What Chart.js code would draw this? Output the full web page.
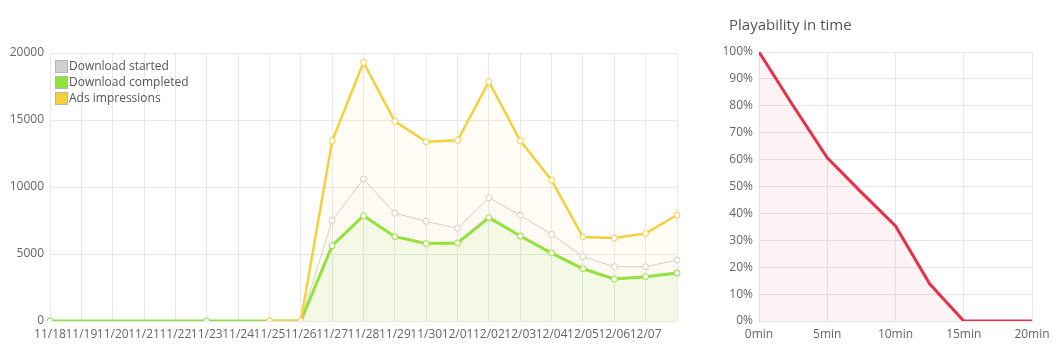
<!DOCTYPE html>
<html>
<head>
<meta charset="utf-8">
<script src="https://cdn.jsdelivr.net/npm/chart.js@4"></script>
<style>
    html, body { margin: 0; padding: 0; background: #fff; }
    body { width: 1061px; height: 347px; position: relative; overflow: hidden; font-family: "Open Sans", sans-serif; }
    #left-box { position: absolute; left: 0; top: 0; width: 690px; height: 347px; }
    #right-box { position: absolute; left: 700px; top: 0; width: 361px; height: 347px; }
    #legend { position: absolute; left: 55px; top: 58px; font-size: 12px; color: #555; line-height: 16px; }
    #legend div { display: flex; align-items: center; height: 16px; }
    #legend span.box { display: inline-block; width: 11px; height: 11px; border: 1px solid #b5b5b5; margin-right: 1px; }
    #right-title { position: absolute; left: 729px; top: 14px; font-size: 15px; line-height: 20px; color: #555; }
</style>
</head>
<body>
<div id="left-box"><canvas id="downloads-chart"></canvas></div>
<div id="legend"></div>
<div id="right-box"><canvas id="playability-chart"></canvas></div>
<div id="right-title">Playability in time</div>
<script>
// days shown on the downloads chart
const days = ['11/18', '11/19', '11/20', '11/21', '11/22', '11/23', '11/24', '11/25', '11/26', '11/27',
    '11/28', '11/29', '11/30', '12/01', '12/02', '12/03', '12/04', '12/05', '12/06', '12/07', '12/08'];

const downloadStarted = [0, null, null, null, null, 0, null, 0, 0, 7510,
    10600, 8040, 7440, 6920, 9200, 7890, 6470, 4800, 4050, 4050, 4550];
const downloadCompleted = [0, null, null, null, null, 0, null, 0, 0, 5620,
    7860, 6290, 5780, 5820, 7710, 6340, 5070, 3900, 3130, 3310, 3580];
const adsImpressions = [null, null, null, null, null, null, null, 0, 0, 13450,
    19300, 14900, 13380, 13480, 17860, 13450, 10500, 6270, 6190, 6540, 7910];

// playability curve
const minutes = [0, 2.5, 5, 7.5, 10, 12.5, 15, 17.5, 20];
const playability = [100, 80, 60.7, 47.8, 35.3, 13.8, 0, 0, 0];

const tickFont = { family: "'Open Sans', sans-serif", size: 12 };
const tickColor = '#666';
const gridColor = '#e8e8e8';

const series = [
    { label: 'Download started', data: downloadStarted, color: '#cfcfcf', fill: 'rgba(200,200,200,0.06)', width: 1, order: 3 },
    { label: 'Download completed', data: downloadCompleted, color: '#8de33c', fill: 'rgba(141,227,60,0.08)', width: 3, order: 2 },
    { label: 'Ads impressions', data: adsImpressions, color: '#f6d03c', fill: 'rgba(246,208,60,0.05)', width: 2.5, order: 1 }
];

// html legend inside the plot area
const legendEl = document.querySelector('#legend');
series.forEach(s => {
    const row = document.createElement('div');
    row.innerHTML = `<span class="box" style="background:${s.color}"></span>${s.label}`;
    legendEl.appendChild(row);
});

new Chart(document.querySelector('#downloads-chart').getContext('2d'), {
    type: 'line',
    data: {
        labels: days,
        datasets: series.map(s => ({
            label: s.label,
            data: s.data,
            borderColor: s.color,
            backgroundColor: s.fill,
            borderWidth: s.width,
            fill: 'origin',
            spanGaps: true,
            tension: 0,
            order: s.order,
            pointRadius: 3,
            pointBorderWidth: 1,
            pointBackgroundColor: '#fff',
            pointBorderColor: s.color
        }))
    },
    options: {
        responsive: true,
        maintainAspectRatio: false,
        animation: false,
        layout: { padding: { left: 0, right: 13, top: 53, bottom: 0 } },
        plugins: { legend: { display: false }, tooltip: { enabled: false } },
        scales: {
            x: {
                grid: { color: gridColor, drawTicks: false },
                border: { color: gridColor },
                ticks: {
                    autoSkip: false, maxRotation: 0, minRotation: 0, padding: 6,
                    font: tickFont, color: tickColor,
                    callback: (v, i) => i === days.length - 1 ? '' : days[i]
                },
                afterFit: scale => { scale.height = 26; }
            },
            y: {
                min: 0, max: 20000,
                grid: { color: gridColor, drawTicks: false },
                border: { color: gridColor },
                ticks: { stepSize: 5000, padding: 6, font: tickFont, color: tickColor, callback: v => String(v) },
                afterFit: scale => { scale.width = 50; }
            }
        }
    }
});

new Chart(document.querySelector('#playability-chart').getContext('2d'), {
    type: 'line',
    data: {
        datasets: [{
            label: 'Playability',
            data: minutes.map((m, i) => ({ x: m, y: playability[i] })),
            borderColor: '#e8304a',
            backgroundColor: 'rgba(232,48,74,0.06)',
            borderWidth: 3,
            fill: 'origin',
            tension: 0,
            pointRadius: 0
        }]
    },
    options: {
        responsive: true,
        maintainAspectRatio: false,
        animation: false,
        layout: { padding: { left: 23, right: 29, top: 52, bottom: 0 } },
        plugins: { legend: { display: false }, tooltip: { enabled: false } },
        scales: {
            x: {
                type: 'linear', min: 0, max: 20,
                grid: { color: gridColor, drawTicks: false },
                border: { color: gridColor },
                ticks: { stepSize: 5, padding: 6, font: tickFont, color: tickColor, callback: v => v + 'min' },
                afterFit: scale => { scale.height = 26; }
            },
            y: {
                min: 0, max: 100,
                grid: { color: gridColor, drawTicks: false },
                border: { color: gridColor },
                ticks: { stepSize: 10, padding: 6, font: tickFont, color: tickColor, callback: v => v + '%' },
                afterFit: scale => { scale.width = 36; }
            }
        }
    }
});
</script>
</body>
</html>
